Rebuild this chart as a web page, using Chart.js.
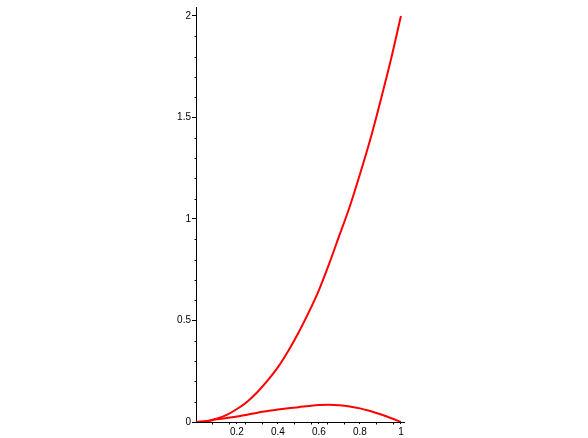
<!DOCTYPE html>
<html>
<head>
<meta charset="utf-8">
<script src="https://cdn.jsdelivr.net/npm/chart.js@4/dist/chart.umd.min.js"></script>
<style>
html,body{margin:0;padding:0;background:#fff;}
#wrap{width:588px;height:438px;}
</style>
</head>
<body>
<div id="wrap"><canvas id="c" width="588" height="438"></canvas></div>
<script>
// Data
const xs = [0,0.05,0.1,0.15,0.2,0.25,0.3,0.35,0.4,0.45,0.5,0.55,0.6,0.65,0.7,0.75,0.8,0.85,0.9,0.95,1];
const upperCurve = [0,0.004,0.016,0.035,0.064,0.1,0.148,0.205,0.27,0.35,0.44,0.54,0.65,0.78,0.92,1.06,1.22,1.39,1.58,1.78,2];
const lowerCurve = [0,0.004,0.013,0.02,0.027,0.036,0.046,0.054,0.062,0.068,0.073,0.079,0.084,0.085,0.082,0.076,0.067,0.054,0.038,0.02,0];
const xTickLabels = [0.2,0.4,0.6,0.8,1];
const yTickLabels = [0,0.5,1,1.5,2];
const xMinorTicks = [0.08,0.16,0.24,0.32,0.48,0.56,0.64,0.72,0.88,0.96];
const yMinorTicks = [0.1,0.2,0.3,0.4,0.6,0.7,0.8,0.9,1.1,1.2,1.3,1.4,1.6,1.7,1.8,1.9];

const toPts = (ys) => xs.map((x,i)=>({x:x,y:ys[i]}));
const FONT = {family:'"Liberation Sans", Arial, sans-serif', size:10};

const minorTicks = {
  id:'minorTicks',
  afterDraw(chart){
    const ctx = chart.ctx, xS = chart.scales.x, yS = chart.scales.y;
    ctx.save();
    ctx.strokeStyle = '#000'; ctx.lineWidth = 1;
    ctx.beginPath();
    const yb = Math.round(yS.getPixelForValue(0)) + 0.5;
    xMinorTicks.forEach(v=>{
      const px = Math.round(xS.getPixelForValue(v)) + 0.5;
      ctx.moveTo(px, yb); ctx.lineTo(px, yb+2);
    });
    const xl = Math.round(xS.getPixelForValue(0)) + 0.5;
    yMinorTicks.forEach(v=>{
      const py = Math.round(yS.getPixelForValue(v)) + 0.5;
      ctx.moveTo(xl, py); ctx.lineTo(xl-2, py);
    });
    ctx.stroke();
    ctx.restore();
  }
};

new Chart(document.getElementById('c'), {
  type:'line',
  data:{
    datasets:[
      {data:toPts(upperCurve), borderColor:'#ff0000', borderWidth:2, pointRadius:0, cubicInterpolationMode:'monotone', fill:false},
      {data:toPts(lowerCurve), borderColor:'#ff0000', borderWidth:2, pointRadius:0, cubicInterpolationMode:'monotone', fill:false}
    ]
  },
  options:{
    responsive:false,
    animation:false,
    layout:{padding:{top:3,right:184,left:0,bottom:0}},
    plugins:{legend:{display:false}, tooltip:{enabled:false}},
    scales:{
      x:{
        type:'linear', min:0, max:1.015,
        afterBuildTicks(s){ s.ticks = xTickLabels.map(v=>({value:v})); },
        afterFit(s){ s.height = 16; },
        grid:{display:true, drawOnChartArea:false, drawTicks:true, tickLength:2, color:'#000'},
        border:{display:true, color:'#000', width:1},
        ticks:{color:'#000', font:FONT, padding:2, maxRotation:0, autoSkip:false,
               callback:(v)=>String(v)}
      },
      y:{
        type:'linear', min:0, max:2.044,
        afterBuildTicks(s){ s.ticks = yTickLabels.map(v=>({value:v})); },
        afterFit(s){ s.width = 196; },
        grid:{display:true, drawOnChartArea:false, drawTicks:true, tickLength:4, color:'#000'},
        border:{display:true, color:'#000', width:1},
        ticks:{color:'#000', font:FONT, padding:1, autoSkip:false,
               callback:(v)=>String(v)}
      }
    }
  },
  plugins:[minorTicks]
});
</script>
</body>
</html>
